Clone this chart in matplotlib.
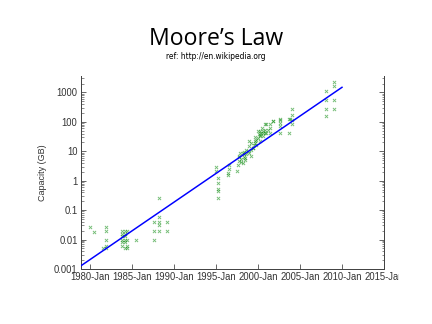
import matplotlib
matplotlib.use('Agg')
import matplotlib.pyplot as plt
from matplotlib.ticker import FixedLocator, FuncFormatter, LogLocator, NullFormatter
from matplotlib.transforms import Bbox, TransformedBbox

# hard drive capacity samples (year, GB)
years = [1980.0, 1980.5,
         1981.9, 1981.9, 1981.9, 1981.9, 1981.9, 1981.6,
         1983.8, 1983.8, 1983.8, 1983.8, 1983.8, 1983.8,
         1984.2, 1984.2, 1984.2, 1984.2, 1984.2, 1984.2,
         1984.4, 1984.4, 1984.4, 1984.4,
         1985.5,
         1987.7, 1987.7, 1987.7,
         1988.3, 1988.3, 1988.3, 1988.3, 1988.3,
         1989.2, 1989.2,
         1995.0, 1995.0,
         1995.3, 1995.3, 1995.3, 1995.3, 1995.3,
         1996.4, 1996.4, 1996.6, 1996.6,
         1997.5, 1997.6, 1997.8, 1997.8, 1997.9, 1998.0, 1998.3, 1998.2,
         1998.3, 1998.4, 1998.5, 1998.6, 1998.8, 1999.0, 1999.2, 1999.4,
         1999.5, 1999.6, 1999.2, 1998.9, 1997.8, 1998.2, 1998.6,
         1999.0, 1999.4, 1999.2, 1999.6, 1999.8, 1999.8, 2000.0, 2000.2,
         2000.2, 2000.6, 2000.2, 2000.4, 2000.6, 2000.8, 2001.0, 2001.4,
         2000.5, 2001.4, 2000.8, 2001.0, 2001.4, 2001.8, 2001.8,
         2000.0, 2000.3, 2000.6, 2000.9, 2001.2, 1999.7, 2000.1, 1998.0, 1998.5,
         2002.6, 2002.6, 2002.6, 2002.6, 2002.6,
         2003.7, 2003.7, 2003.8,
         2004.1, 2004.1, 2004.1, 2004.1,
         2008.1, 2008.1, 2008.1, 2008.1,
         2009.0, 2009.0, 2009.0, 2009.0]
capacity_gb = [0.027, 0.018,
               0.027, 0.02, 0.01, 0.006, 0.005, 0.005,
               0.02, 0.016, 0.013, 0.01, 0.008, 0.006,
               0.02, 0.016, 0.013, 0.01, 0.008, 0.005,
               0.02, 0.01, 0.006, 0.005,
               0.01,
               0.04, 0.02, 0.01,
               0.26, 0.06, 0.04, 0.03, 0.02,
               0.04, 0.02,
               3.0, 2.1,
               1.26, 0.86, 0.53, 0.45, 0.25,
               1.6, 1.9, 2.6, 3.3,
               2.2, 3.5, 4.6, 6.5, 8.9, 5.3, 6.4, 4.1,
               7.8, 9.3, 5.9, 7.8, 10, 9, 11.5, 13,
               17, 22, 6.8, 22, 6.8, 9, 11.5,
               15, 13, 19, 19, 17, 25, 29, 22,
               37, 33, 33, 43, 43, 43, 43, 43,
               63, 63, 87, 87, 87, 105, 105,
               50, 50, 50, 55, 55, 30, 38, 4.5, 5.0,
               120, 92, 70, 43, 125,
               43, 125, 130,
               275, 176, 120, 87,
               1100, 540, 275, 162,
               2200, 1700, 540, 275]

# fitted trend
line_years = [1979.0, 2010.0]
line_gb = [0.0013, 1500]

tick_years = [1980, 1985, 1990, 1995, 2000, 2005, 2010, 2015]

fig = plt.figure(figsize=(6, 4.5), dpi=72)
ax = fig.add_axes([0.1875, 0.17, 0.7015, 0.595])

ax.scatter(years, capacity_gb, marker='x', s=10, linewidths=0.9,
           color='#17901a', alpha=0.6, zorder=2)
ax.plot(line_years, line_gb, color='#0000ff', lw=1.5, zorder=3)

ax.set_yscale('log')
ax.set_xlim(1978.97, 2015.0)
ax.set_ylim(0.001, 3600)

ax.xaxis.set_major_locator(FixedLocator(tick_years))
ax.xaxis.set_major_formatter(FuncFormatter(lambda v, p: f'{int(round(v))}-Jan'))
ax.yaxis.set_major_locator(FixedLocator([0.001, 0.01, 0.1, 1, 10, 100, 1000]))
ax.yaxis.set_major_formatter(FuncFormatter(lambda v, p: f'{v:g}'))
ax.yaxis.set_minor_locator(LogLocator(base=10, subs=range(2, 10)))
ax.yaxis.set_minor_formatter(NullFormatter())

ax.spines['top'].set_visible(False)
for s in ['left', 'right', 'bottom']:
    ax.spines[s].set_color('#444444')
    ax.spines[s].set_linewidth(1.0)

ax.tick_params(axis='both', which='major', direction='in', length=5, width=0.8,
               colors='#444444', labelcolor='#333333', labelsize=9.5)
ax.tick_params(axis='y', which='both', right=True)
ax.tick_params(axis='y', which='minor', direction='in', length=2.5, width=0.6, colors='#444444')
for lab in ax.get_xticklabels() + ax.get_yticklabels():
    lab.set_family('Liberation Sans')

ax.set_ylabel('Capacity (GB)', fontsize=9, color='#333333', family='Liberation Sans', labelpad=7)

fig.text(0.5, 0.88, 'Moore\u2019s Law', ha='center', va='center', fontsize=23, family='Open Sans')
fig.text(0.5, 0.827, 'ref: http://en.wikipedia.org', ha='center', va='center', fontsize=7.5, family='DejaVu Sans')

# the right-most date label runs off the original picture
fig.canvas.draw()
last = ax.get_xticklabels()[-1]
last.set_clip_box(TransformedBbox(Bbox([[0, 0], [399 / 432, 1]]), fig.transFigure))
last.set_clip_on(True)

fig.savefig('out.png', dpi=72)
